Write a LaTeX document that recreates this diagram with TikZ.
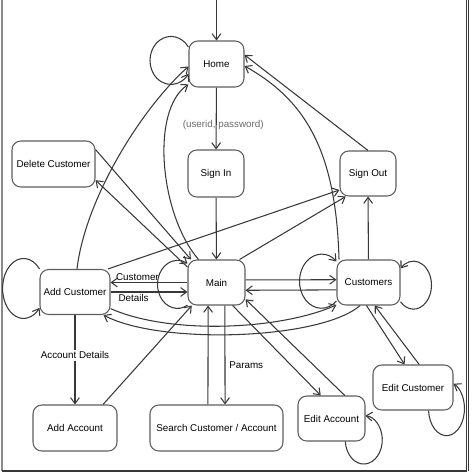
\documentclass[tikz,border=0pt]{standalone}
\usepackage{fontspec}
\setmainfont{Liberation Sans}
\usepackage{tikz}
\usetikzlibrary{arrows.meta}
\definecolor{ink}{HTML}{383838}
\definecolor{rim}{HTML}{5E5E5E}
\definecolor{muted}{HTML}{6A6A6A}
\definecolor{side}{HTML}{8A8A8A}
\tikzset{
  st/.style={draw=rim, line width=0.6pt, rounded corners=5pt, fill=white, inner sep=0pt,
             font=\fontsize{5.6}{6.5}\selectfont},
  tr/.style={draw=ink, line width=0.6pt, -{Straight Barb[length=3.4pt,width=5pt]}},
  lab/.style={text=black, font=\fontsize{5.6}{6.5}\selectfont, inner sep=1pt},
  labm/.style={lab, text=muted},
  frame/.style={draw=ink, line width=1.1pt},
}

\begin{document}
\begin{tikzpicture}[x=0.02cm, y=-0.02cm]
\useasboundingbox (0,0) rectangle (474,474);
\draw[frame, draw=side] (2,0) -- (2,471);
\draw[frame] (2,471) -- (467,471);
\draw[frame, double, double distance=0.8pt, line width=0.5pt] (467.5,0) -- (467.5,471);

% states
\node[st, minimum width=1.1cm, minimum height=0.92cm] (home) at (216.5,64) {Home};
\node[st, minimum width=1.12cm, minimum height=0.94cm] (signin) at (216,173.5) {Sign In};
\node[st, minimum width=1.12cm, minimum height=0.9cm] (signout) at (368,173.5) {Sign Out};
\node[st, minimum width=1.66cm, minimum height=0.92cm] (delcust) at (53.5,164) {Delete Customer};
\node[st, minimum width=1.4cm, minimum height=0.9cm] (addcust) at (75,292) {Add Customer};
\node[st, minimum width=1.14cm, minimum height=0.9cm] (main) at (216.5,282.5) {Main};
\node[st, minimum width=1.26cm, minimum height=0.9cm] (customers) at (368.5,282.5) {Customers};
\node[st, minimum width=1.68cm, minimum height=0.92cm] (addacct) at (75,428) {Add Account};
\node[st, minimum width=2.66cm, minimum height=0.92cm] (search) at (216.5,428) {Search Customer / Account};
\node[st, minimum width=1.34cm, minimum height=0.9cm] (editacct) at (331.5,418.5) {Edit Account};
\node[st, minimum width=1.6cm, minimum height=0.9cm] (editcust) at (413,387.5) {Edit Customer};

% login path
\coordinate (entry) at (216.5,0);
\draw[tr] (entry) -- (home);
\draw[tr] (home) -- node[labm, pos=0.6, xshift=0.14cm] {(userid, password)} (signin);
\draw[tr] (signin) -- (main);

% back to home and sign out
\draw[tr] (signout.north) -- (home.18);
\draw[tr] (customers.142) .. controls (336,150) and (305,100) .. (home.-4);
\draw[tr] (addcust.85) .. controls (85,200) and (140,110) .. (home.185);
\draw[tr] (main.128) .. controls (160,215) and (150,110) .. (home.216);
\draw[tr] (customers) -- (signout);
\draw[tr] (main.45) -- (signout.-134);
\draw[tr] (addcust.35) -- (signout.-150);

% main menu
\draw[tr] (delcust.19) -- (main.138);
\draw[tr] (main.152) -- (delcust.-21);
\draw[tr] (main.west) -- node[lab, above, pos=0.65] {Customer} (main.west -| addcust.east);
\draw[tr] (addcust.east) -- node[lab, below, pos=0.3] {Details} (addcust.east -| main.west);
\draw[tr] (main.5) -- (customers.175);
\draw[tr] (customers.-167) -- (main.-15);
\draw[tr] (main.-70) -- node[lab, right, pos=0.6, xshift=0.04cm] {Params} (search.70);
\draw[tr] (search.110) -- (main.-110);
\draw[tr] (addcust) -- node[lab, fill=white, pos=0.45] {Account Details} (addacct);
\draw[tr] (addacct.40) -- (main.-137);
\draw[tr] (main.-55) -- (editacct.115);
\draw[tr] (editacct.60) -- (main.-30);

% customers
\draw[tr] (addcust.-25) .. controls (170,335) and (280,330) .. (customers.-145);
\draw[tr] (customers.-110) .. controls (320,340) and (160,345) .. (addcust.-39);
\draw[tr] (customers.-95) -- (editcust.110);
\draw[tr] (editcust.75) -- (customers.-75);

% self loops
\draw[tr] (home.149) arc[start angle=33.6, end angle=326.4, x radius=0.42cm, y radius=0.48cm];
\draw[tr] (addcust.147.4) arc[start angle=40.4, end angle=319.6, x radius=0.42cm, y radius=0.6cm];
\draw[tr] (main.218) arc[start angle=-60, end angle=-300, x radius=0.4cm, y radius=0.48cm];
\draw[tr] (customers.210) arc[start angle=-47, end angle=-313, x radius=0.44cm, y radius=0.54cm];
\draw[tr] (customers.-31.2) arc[start angle=-136.2, end angle=136.2, x radius=0.36cm, y radius=0.48cm];
\draw[tr] (editacct.-59) arc[start angle=184, end angle=445, x radius=0.37cm, y radius=0.484cm];
\draw[tr] (editcust.-56) arc[start angle=184, end angle=427, x radius=0.36cm, y radius=0.541cm];
\end{tikzpicture}
\end{document}
